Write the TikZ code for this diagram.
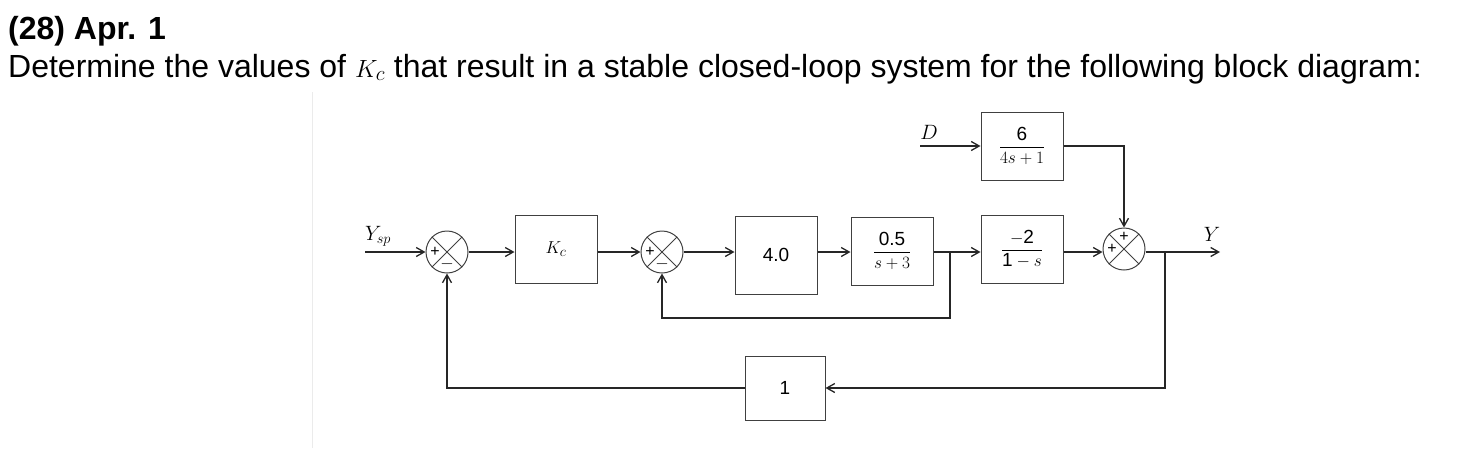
\documentclass[tikz,border=0pt]{standalone}
\usepackage{fontspec}
\setmainfont{Liberation Sans}
\usetikzlibrary{arrows.meta}
\begin{document}
\begin{tikzpicture}[x=1pt,y=-1pt,
 blk/.style={draw=black!75,line width=1pt,minimum width=82pt,minimum height=68pt,inner sep=0pt,font=\fontsize{19}{22}\selectfont},
 sj/.style={draw=black!75,circle,line width=1pt,minimum size=42pt,inner sep=0pt},
 sg/.style={font=\fontsize{16}{16}\selectfont,inner sep=0pt},
 ln/.style={line width=1.3pt,black!85},
 ar/.style={ln,-{Straight Barb[length=8pt,width=9pt]}},
 lab/.style={font=\fontsize{20}{22}\selectfont}]
\useasboundingbox (0,0) rectangle (1466,448);
\node[anchor=base west,font=\bfseries\fontsize{32}{36}\selectfont,inner sep=0pt] (t1) at (8,39) {(28) Apr. 1};
\node[anchor=base west,font=\fontsize{32}{36}\selectfont,inner sep=0pt] (t2) at (8,77) {Determine the values of $K_c$ that result in a stable closed-loop system for the following block diagram:};
\draw[black!8,line width=1pt] (312,92) -- (312,448);
% blocks
\node[blk] (kc) at (556,249) {$K_c$};
\node[blk,minimum height=78pt] (g4) at (776,255) {4.0};
\node[blk] (g5) at (892,251) {$\displaystyle\frac{\mbox{0.5}}{s+3}$};
\node[blk] (g2) at (1022,249) {$\displaystyle\frac{-\mbox{2}}{\mbox{1}-s}$};
\node[blk] (gd) at (1022,146) {$\displaystyle\frac{\mbox{6}}{4s+1}$};
\node[blk,minimum width=80pt,minimum height=64pt] (h) at (785,388) {1};
% summing junctions
\node[sj] (s1) at (447,252) {};
\node[sj] (s2) at (662,252) {};
\node[sj] (s3) at (1124,249) {};
\foreach \s in {s1,s2,s3}{
 \draw[black!75,line width=0.9pt] (\s.north west)--(\s.south east) (\s.north east)--(\s.south west);}
\node[sg] (p1) at ([xshift=-12pt]s1.center) {+};
\node[sg] (m1) at ([yshift=-12pt]s1.center) {$-$};
\node[sg] (p2) at ([xshift=-12pt]s2.center) {+};
\node[sg] (m2) at ([yshift=-12pt]s2.center) {$-$};
\node[sg] (p3) at ([xshift=-12pt]s3.center) {+};
\node[sg] (p4) at ([yshift=12pt]s3.center) {+};
% coordinates
\coordinate (in) at (365,252);
\coordinate (din) at (920,146);
\coordinate (out) at (1220,252);
\coordinate (b1) at (950,252);
\coordinate (b2) at (1165,252);
\node[lab] (ysp) at (378,236) {$Y_{sp}$};
\node[lab] (dl) at (929,132) {$D$};
\node[lab] (yl) at (1212,234) {$Y$};
% connectors
\draw[ar] (in) -- (s1);
\draw[ar] (s1) -- (kc.west|-s1);
\draw[ar] (kc.east|-s1) -- (s2);
\draw[ar] (s2) -- (g4.west|-s2);
\draw[ar] (g4.east|-s2) -- (g5.west|-s2);
\draw[ar] (g5.east|-s2) -- (g2.west|-s2);
\draw[ar] (g2.east|-s2) -- (s3.west|-s2);
\draw[ar] (s3.east|-s2) -- (out);
\draw[ar] (din) -- (gd);
\draw[ar] (gd.east) -| (s3.north);
\draw[ar] (b1) -- (950,318) -| (s2.south);
\draw[ar] (b2) |- (h.east);
\draw[ar] (h.west) -| (s1.south);
\end{tikzpicture}
\end{document}
